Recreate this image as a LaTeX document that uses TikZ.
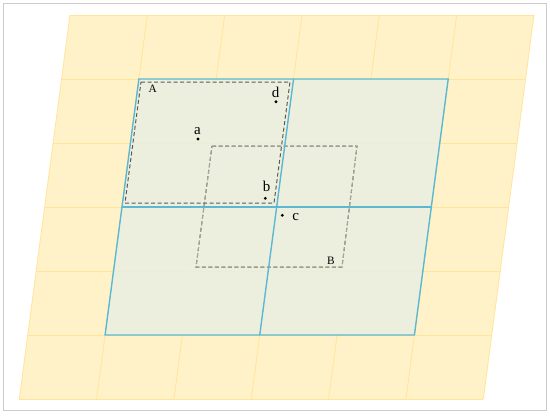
\documentclass[tikz,border=0pt]{standalone}
\usepackage{fontspec}
\setmainfont{Liberation Serif}
\begin{document}
\begin{tikzpicture}[x=1pt,y=-1pt,
  gridline/.style={draw=yellowline,line width=0.8pt},
  blueline/.style={draw=bluecol,line width=1.4pt,line join=miter},
  dashbox/.style={draw=dashgray,line width=1pt,dash pattern=on 4pt off 2.5pt},
  ptdot/.style={circle,fill=black,inner sep=0pt,minimum size=3.2pt},
  smalllab/.style={inner sep=0pt,font=\fontsize{15}{17}\selectfont},
  caplab/.style={inner sep=0pt,font=\fontsize{11.3}{13}\selectfont}]
\definecolor{yellowfill}{HTML}{FFF2C8}
\definecolor{yellowline}{HTML}{FFE49A}
\definecolor{bluefill}{HTML}{EBEFE2}
\definecolor{bluecol}{HTML}{5CB8D2}
\definecolor{dashgray}{HTML}{5A5A5A}
\definecolor{lightdash}{HTML}{A8A8A0}
\definecolor{bordergray}{HTML}{CCCCCC}
\useasboundingbox (0,0) rectangle (550,416);
\fill[white] (0,0) rectangle (550,416);
\draw[bordergray,line width=1pt] (3.3,3.3) rectangle (546.7,410.3);
% yellow grid in skewed coordinates
\begin{scope}[shift={(70,15)},x={(77.333pt,0pt)},y={(-8.45pt,-64pt)}]
  \fill[yellowfill] (0,0) -- (6,0) -- (6,6) -- (0,6) -- cycle;
  \foreach \i in {0,...,6} {\draw[gridline] (\i,0) -- (\i,6);}
  \foreach \j in {0,...,6} {\draw[gridline] (0,\j) -- (6,\j);}
  \fill[bluefill,opacity=0.85] (1,1) -- (5,1) -- (5,5) -- (1,5) -- cycle;
\end{scope}
% dashed box B
\draw[dashbox] (212,146) -- (357,146) -- (342,267) -- (196,267) -- cycle;
\begin{scope}
  \begin{scope}[shift={(70,15)},x={(77.333pt,0pt)},y={(-8.45pt,-64pt)}]
    \path[clip] (3.01,1) -- (5,1) -- (5,2.99) -- (3.01,2.99) -- cycle;
  \end{scope}
  \draw[dashbox,draw=lightdash] (212,146) -- (357,146) -- (342,267) -- (196,267) -- cycle;
\end{scope}
% dashed box A
\draw[dashbox] (141,82) -- (290,82) -- (274,203) -- (125,203) -- cycle;
% blue frame
\begin{scope}[shift={(70,15)},x={(77.333pt,0pt)},y={(-8.45pt,-64pt)}]
  \draw[blueline] (1,1) -- (5,1) -- (5,5) -- (1,5) -- cycle;
  \draw[blueline] (3,1) -- (3,5);
  \draw[blueline] (1,3) -- (5,3);
\end{scope}
% labels and points
\node[caplab] (labA) at (152.8,88.5) {A};
\node[caplab] (labB) at (330.8,260.5) {B};
\node[ptdot] (pa) at (198,139) {};
\node[smalllab] (la) at (197.5,131.5) {a};
\node[ptdot] (pd) at (276,101.7) {};
\node[smalllab] (ld) at (275.5,92) {d};
\node[ptdot] (pb) at (265.3,198.3) {};
\node[smalllab] (lb) at (266.7,186.7) {b};
\node[ptdot] (pc) at (282.3,215.3) {};
\node[smalllab] (lc) at (295.7,216.7) {c};
\end{tikzpicture}
\end{document}
